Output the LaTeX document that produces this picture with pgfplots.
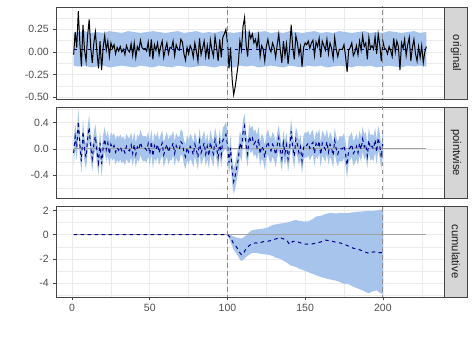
\documentclass[border=0pt]{standalone}
\usepackage{fontspec}
\setmainfont{Liberation Sans}
\usepackage{pgfplots}
\pgfplotsset{compat=1.18}
\usepackage{pgfplotstable}
\usepgfplotslibrary{fillbetween}

\definecolor{bandc}{RGB}{166,196,236}
\definecolor{predc}{HTML}{00008B}
\definecolor{gridc}{HTML}{EBEBEB}
\definecolor{gtwenty}{HTML}{444444}
\definecolor{ticktext}{HTML}{4D4D4D}
\definecolor{stripfill}{HTML}{D6D6D6}
\definecolor{striptext}{HTML}{1A1A1A}
\definecolor{vlinec}{HTML}{8C8C8C}
\definecolor{hlinec}{HTML}{A0A0A0}

\pgfplotstableread{
x y
1 -0.03
2 0.22
3 0.05
4 0.45
5 0.10
6 -0.16
7 0.30
8 0.02
9 -0.10
10 0.18
11 0.36
12 0.05
13 -0.12
14 0.10
15 0.22
16 0.00
17 -0.18
18 0.12
19 -0.20
20 0.05
21 0.18
22 0.02
23 0.12
24 -0.05
25 0.10
26 0.04
27 0.08
28 -0.02
29 0.05
30 0.01
31 0.06
32 0.00
33 0.03
34 -0.03
35 0.07
36 0.02
37 0.00
38 0.09
39 -0.04
40 0.10
41 -0.06
42 0.06
43 0.02
44 0.13
45 0.05
46 0.03
47 0.04
48 0.01
49 0.11
50 -0.05
51 0.14
52 -0.08
53 0.08
54 0.02
55 0.10
56 -0.03
57 0.06
58 0.12
59 -0.06
60 0.03
61 0.10
62 -0.02
63 0.05
64 0.04
65 0.12
66 -0.04
67 0.08
68 0.03
69 0.02
70 0.14
71 0.11
72 -0.02
73 -0.09
74 0.05
75 -0.02
76 0.07
77 0.03
78 -0.06
79 0.10
80 0.01
81 -0.10
82 0.15
83 -0.03
84 0.04
85 0.12
86 -0.05
87 0.07
88 -0.08
89 0.13
90 0.02
91 -0.05
92 0.17
93 0.05
94 -0.10
95 0.14
96 -0.06
97 0.16
98 0.20
99 0.25
100 0.10
101 -0.18
102 0.05
103 -0.30
104 -0.47
105 -0.38
106 -0.25
107 -0.12
108 0.12
109 0.02
110 0.28
111 0.38
112 0.08
113 -0.05
114 0.22
115 0.15
116 0.20
117 0.10
118 0.14
119 0.05
120 0.18
121 -0.05
122 0.07
123 0.03
124 -0.10
125 0.06
126 0.14
127 0.04
128 0.00
129 0.10
130 0.05
131 -0.06
132 0.08
133 0.20
134 0.02
135 -0.12
136 0.12
137 -0.04
138 0.09
139 -0.13
140 0.04
141 0.30
142 0.05
143 -0.08
144 0.18
145 0.10
146 -0.03
147 0.06
148 -0.16
149 0.05
150 0.10
151 0.08
152 0.12
153 0.04
154 0.10
155 0.13
156 -0.04
157 0.11
158 0.06
159 0.15
160 -0.06
161 0.12
162 0.07
163 0.02
164 0.14
165 -0.02
166 0.10
167 0.04
168 -0.07
169 0.16
170 0.03
171 -0.05
172 0.03
173 0.03
174 0.03
175 0.08
176 -0.05
177 -0.22
178 0.02
179 0.05
180 0.10
181 -0.04
182 0.00
183 0.07
184 -0.03
185 0.12
186 0.02
187 0.18
188 0.06
189 0.10
190 -0.08
191 0.16
192 0.04
193 0.07
194 0.03
195 0.17
196 -0.02
197 0.20
198 0.08
199 -0.10
200 0.12
201 0.04
202 0.03
203 -0.02
204 0.06
205 0.02
206 -0.05
207 0.15
208 0.00
209 0.12
210 0.06
211 -0.20
212 0.10
213 0.04
214 0.14
215 -0.04
216 0.08
217 0.16
218 -0.10
219 0.05
220 0.14
221 -0.02
222 -0.10
223 0.06
224 -0.06
225 0.07
226 -0.12
227 0.00
228 0.06
}\orig

\pgfplotstableread{
x lo hi
1 -0.15 0.21
4 -0.16 0.22
8 -0.15 0.23
12 -0.17 0.21
16 -0.16 0.22
20 -0.15 0.21
24 -0.17 0.23
28 -0.16 0.22
32 -0.15 0.21
36 -0.16 0.23
40 -0.17 0.22
44 -0.15 0.21
48 -0.16 0.22
52 -0.17 0.23
56 -0.15 0.22
60 -0.16 0.21
64 -0.17 0.22
68 -0.15 0.23
72 -0.16 0.21
76 -0.17 0.22
80 -0.16 0.23
84 -0.15 0.21
88 -0.16 0.22
92 -0.17 0.21
96 -0.15 0.23
100 -0.16 0.22
104 -0.17 0.21
108 -0.15 0.22
112 -0.16 0.23
116 -0.15 0.21
120 -0.17 0.22
124 -0.16 0.23
128 -0.15 0.21
132 -0.16 0.22
136 -0.17 0.21
140 -0.15 0.23
144 -0.16 0.22
148 -0.17 0.21
152 -0.15 0.22
156 -0.16 0.23
160 -0.15 0.21
164 -0.17 0.22
168 -0.16 0.21
172 -0.15 0.23
176 -0.16 0.22
180 -0.17 0.21
184 -0.15 0.22
188 -0.16 0.23
192 -0.15 0.21
196 -0.17 0.22
200 -0.16 0.21
204 -0.15 0.23
208 -0.16 0.22
212 -0.17 0.21
216 -0.15 0.22
220 -0.16 0.23
224 -0.15 0.21
228 -0.16 0.22
}\origband

\pgfplotstableread{
x pw lo hi
1 -0.06 -0.25 0.13
2 0.19 0.00 0.38
3 0.02 -0.17 0.21
4 0.42 0.23 0.61
5 0.07 -0.12 0.26
6 -0.19 -0.38 0.00
7 0.27 0.08 0.46
8 -0.01 -0.20 0.18
9 -0.13 -0.32 0.06
10 0.15 -0.04 0.34
11 0.33 0.14 0.52
12 0.02 -0.17 0.21
13 -0.15 -0.34 0.04
14 0.07 -0.12 0.26
15 0.19 0.00 0.38
16 -0.03 -0.22 0.16
17 -0.21 -0.40 -0.02
18 0.09 -0.10 0.28
19 -0.23 -0.42 -0.04
20 0.02 -0.17 0.21
21 0.15 -0.04 0.34
22 -0.01 -0.20 0.18
23 0.09 -0.10 0.28
24 -0.08 -0.27 0.11
25 0.07 -0.12 0.26
26 0.01 -0.18 0.20
27 0.05 -0.14 0.24
28 -0.05 -0.24 0.14
29 0.02 -0.17 0.21
30 -0.02 -0.21 0.17
31 0.03 -0.16 0.22
32 -0.03 -0.22 0.16
33 0.00 -0.19 0.19
34 -0.06 -0.25 0.13
35 0.04 -0.15 0.23
36 -0.01 -0.20 0.18
37 -0.03 -0.22 0.16
38 0.06 -0.13 0.25
39 -0.07 -0.26 0.12
40 0.07 -0.12 0.26
41 -0.09 -0.28 0.10
42 0.03 -0.16 0.22
43 -0.01 -0.20 0.18
44 0.10 -0.09 0.29
45 0.02 -0.17 0.21
46 0.00 -0.19 0.19
47 0.01 -0.18 0.20
48 -0.02 -0.21 0.17
49 0.08 -0.11 0.27
50 -0.08 -0.27 0.11
51 0.11 -0.08 0.30
52 -0.11 -0.30 0.08
53 0.05 -0.14 0.24
54 -0.01 -0.20 0.18
55 0.07 -0.12 0.26
56 -0.06 -0.25 0.13
57 0.03 -0.16 0.22
58 0.09 -0.10 0.28
59 -0.09 -0.28 0.10
60 0.00 -0.19 0.19
61 0.07 -0.12 0.26
62 -0.05 -0.24 0.14
63 0.02 -0.17 0.21
64 0.01 -0.18 0.20
65 0.09 -0.10 0.28
66 -0.07 -0.26 0.12
67 0.05 -0.14 0.24
68 0.00 -0.19 0.19
69 -0.01 -0.20 0.18
70 0.11 -0.08 0.30
71 0.08 -0.11 0.27
72 -0.05 -0.24 0.14
73 -0.12 -0.31 0.07
74 0.02 -0.17 0.21
75 -0.05 -0.24 0.14
76 0.04 -0.15 0.23
77 0.00 -0.19 0.19
78 -0.09 -0.28 0.10
79 0.07 -0.12 0.26
80 -0.02 -0.21 0.17
81 -0.13 -0.32 0.06
82 0.12 -0.07 0.31
83 -0.06 -0.25 0.13
84 0.01 -0.18 0.20
85 0.09 -0.10 0.28
86 -0.08 -0.27 0.11
87 0.04 -0.15 0.23
88 -0.11 -0.30 0.08
89 0.10 -0.09 0.29
90 -0.01 -0.20 0.18
91 -0.08 -0.27 0.11
92 0.14 -0.05 0.33
93 0.02 -0.17 0.21
94 -0.13 -0.32 0.06
95 0.11 -0.08 0.30
96 -0.09 -0.28 0.10
97 0.13 -0.06 0.32
98 0.17 -0.02 0.36
99 0.22 0.03 0.41
100 0.07 -0.12 0.26
101 -0.21 -0.40 -0.02
102 0.02 -0.17 0.21
103 -0.33 -0.52 -0.14
104 -0.50 -0.69 -0.31
105 -0.41 -0.60 -0.22
106 -0.28 -0.47 -0.09
107 -0.15 -0.34 0.04
108 0.09 -0.10 0.28
109 -0.01 -0.20 0.18
110 0.25 0.06 0.44
111 0.35 0.16 0.54
112 0.05 -0.14 0.24
113 -0.08 -0.27 0.11
114 0.19 0.00 0.38
115 0.12 -0.07 0.31
116 0.17 -0.02 0.36
117 0.07 -0.12 0.26
118 0.11 -0.08 0.30
119 0.02 -0.17 0.21
120 0.15 -0.04 0.34
121 -0.08 -0.27 0.11
122 0.04 -0.15 0.23
123 0.00 -0.19 0.19
124 -0.13 -0.32 0.06
125 0.03 -0.16 0.22
126 0.11 -0.08 0.30
127 0.01 -0.18 0.20
128 -0.03 -0.22 0.16
129 0.07 -0.12 0.26
130 0.02 -0.17 0.21
131 -0.09 -0.28 0.10
132 0.05 -0.14 0.24
133 0.17 -0.02 0.36
134 -0.01 -0.20 0.18
135 -0.15 -0.34 0.04
136 0.09 -0.10 0.28
137 -0.07 -0.26 0.12
138 0.06 -0.13 0.25
139 -0.16 -0.35 0.03
140 0.01 -0.18 0.20
141 0.27 0.08 0.46
142 0.02 -0.17 0.21
143 -0.11 -0.30 0.08
144 0.15 -0.04 0.34
145 0.07 -0.12 0.26
146 -0.06 -0.25 0.13
147 0.03 -0.16 0.22
148 -0.19 -0.38 0.00
149 0.02 -0.17 0.21
150 0.07 -0.12 0.26
151 0.05 -0.14 0.24
152 0.09 -0.10 0.28
153 0.01 -0.18 0.20
154 0.07 -0.12 0.26
155 0.10 -0.09 0.29
156 -0.07 -0.26 0.12
157 0.08 -0.11 0.27
158 0.03 -0.16 0.22
159 0.12 -0.07 0.31
160 -0.09 -0.28 0.10
161 0.09 -0.10 0.28
162 0.04 -0.15 0.23
163 -0.01 -0.20 0.18
164 0.11 -0.08 0.30
165 -0.05 -0.24 0.14
166 0.07 -0.12 0.26
167 0.01 -0.18 0.20
168 -0.10 -0.29 0.09
169 0.13 -0.06 0.32
170 0.00 -0.19 0.19
171 -0.08 -0.27 0.11
172 0.00 -0.19 0.19
173 0.00 -0.19 0.19
174 0.00 -0.19 0.19
175 0.05 -0.14 0.24
176 -0.08 -0.27 0.11
177 -0.25 -0.44 -0.06
178 -0.01 -0.20 0.18
179 0.02 -0.17 0.21
180 0.07 -0.12 0.26
181 -0.07 -0.26 0.12
182 -0.03 -0.22 0.16
183 0.04 -0.15 0.23
184 -0.06 -0.25 0.13
185 0.09 -0.10 0.28
186 -0.01 -0.20 0.18
187 0.15 -0.04 0.34
188 0.03 -0.16 0.22
189 0.07 -0.12 0.26
190 -0.11 -0.30 0.08
191 0.13 -0.06 0.32
192 0.01 -0.18 0.20
193 0.04 -0.15 0.23
194 0.00 -0.19 0.19
195 0.14 -0.05 0.33
196 -0.05 -0.24 0.14
197 0.17 -0.02 0.36
198 0.05 -0.14 0.24
199 -0.13 -0.32 0.06
200 0.09 -0.10 0.28
}\pointw

\pgfplotstableread{
x c
1 0
100 0
102 -0.25
104 -0.75
106 -1.05
108 -1.50
109 -1.65
110 -1.60
112 -1.15
114 -0.90
116 -0.72
118 -0.68
120 -0.70
123 -0.58
126 -0.55
129 -0.44
131 -0.35
134 -0.25
136 -0.35
138 -0.45
140 -0.80
142 -0.55
144 -0.55
146 -0.63
149 -0.78
152 -0.79
155 -0.75
157 -0.71
160 -0.60
163 -0.45
166 -0.50
170 -0.63
173 -0.70
175 -0.79
178 -0.95
181 -1.12
184 -1.20
187 -1.34
189 -1.45
191 -1.54
193 -1.45
196 -1.40
198 -1.50
200 -1.46
}\cumul

% cumulative band as a closed outline: upper edge forward, lower edge back
\pgfplotstableread{
x y
100 0
102 -0.02
104 -0.15
106 -0.25
108 -0.30
109 -0.30
110 -0.25
112 -0.05
114 0.20
116 0.38
118 0.42
120 0.45
123 0.50
126 0.60
129 0.80
131 0.85
134 0.92
136 0.95
138 1.00
140 1.05
142 1.15
144 1.22
146 1.15
149 1.10
152 1.10
155 1.30
157 1.50
160 1.55
163 1.70
166 1.80
170 1.75
173 1.80
175 1.77
178 1.80
181 1.85
184 1.90
187 1.92
189 1.95
191 1.96
193 1.95
196 2.00
198 2.05
200 2.10
200 -4.95
198 -4.80
196 -4.60
193 -4.70
191 -4.84
189 -4.75
187 -4.60
184 -4.45
181 -4.30
178 -4.10
175 -4.05
173 -3.95
170 -3.80
166 -3.70
163 -3.60
160 -3.50
157 -3.35
155 -3.25
152 -3.10
149 -2.95
146 -2.80
144 -2.66
142 -2.60
140 -2.50
138 -2.30
136 -2.15
134 -2.00
131 -1.90
129 -1.75
126 -1.65
123 -1.62
120 -1.55
118 -1.50
116 -1.50
114 -1.65
112 -1.85
110 -2.10
109 -2.17
108 -2.05
106 -1.60
104 -1.25
102 -0.60
100 0
}\cumband

\pgfplotsset{
  panel/.style={
    scale only axis, width=388bp, anchor=south west,
    xmin=-10.35, xmax=239.35,
    axis line style={color=gtwenty, line width=0.7bp},
    grid=both,
    major grid style={color=gridc, line width=0.7bp},
    minor grid style={color=gridc, line width=0.35bp},
    xtick={0,50,100,150,200},
    minor xtick={25,75,125,175,225},
    tick align=outside,
    major tick length=3.2bp, minor tick length=0pt,
    xtick pos=left, ytick pos=left,
    tick style={color=gtwenty, line width=0.6bp},
    ticklabel style={font=\fontsize{10.5bp}{12bp}\selectfont, text=ticktext},
    yticklabel style={xshift=-0.5bp},
  },
  noxlab/.style={xticklabels={}, xtick style={draw=none}},
  vl/.style={color=vlinec, line width=0.9bp, dash pattern=on 4.5bp off 3.5bp},
  predl/.style={color=predc, line width=1bp, dash pattern=on 3.5bp off 3.5bp},
}

\begin{document}
\begin{tikzpicture}
\path (0,0) rectangle (474bp,338bp);

% original
\begin{axis}[panel, noxlab, at={(56bp,239bp)}, height=92bp,
  ymin=-0.518, ymax=0.496,
  ytick={-0.5,-0.25,0,0.25}, yticklabels={-0.50,-0.25,0.00,0.25},
  minor ytick={-0.375,-0.125,0.125,0.375}]
  \addplot[draw=none, name path=olo] table[x=x, y=lo] {\origband};
  \addplot[draw=none, name path=ohi] table[x=x, y=hi] {\origband};
  \addplot[fill=bandc, draw=none] fill between[of=ohi and olo];
  \addplot[predl] coordinates {(1,0.03) (228,0.03)};
  \addplot[black, line width=1bp] table[x=x, y=y] {\orig};
  \addplot[vl] coordinates {(100,-1) (100,1)};
  \addplot[vl] coordinates {(200,-1) (200,1)};
\end{axis}

% pointwise
\begin{axis}[panel, noxlab, at={(56bp,140bp)}, height=91bp,
  ymin=-0.75, ymax=0.64,
  ytick={-0.4,0,0.4}, yticklabels={-0.4,0.0,0.4},
  minor ytick={-0.6,-0.2,0.2,0.6}]
  \addplot[draw=none, name path=plo] table[x=x, y=lo] {\pointw};
  \addplot[draw=none, name path=phi] table[x=x, y=hi] {\pointw};
  \addplot[fill=bandc, draw=none] fill between[of=phi and plo];
  \addplot[hlinec, line width=1bp] coordinates {(1,0) (228,0)};
  \addplot[predl] table[x=x, y=pw] {\pointw};
  \addplot[vl] coordinates {(100,-1) (100,1)};
  \addplot[vl] coordinates {(200,-1) (200,1)};
\end{axis}

% cumulative
\begin{axis}[panel, at={(56bp,41bp)}, height=91bp,
  ymin=-5.15, ymax=2.37,
  ytick={-4,-2,0,2}, yticklabels={-4,-2,0,2},
  xticklabels={0,50,100,150,200},
  minor ytick={-5,-3,-1,1}]
  \addplot[fill=bandc, draw=none] table[x=x, y=y] {\cumband};
  \addplot[hlinec, line width=1bp] coordinates {(1,0) (228,0)};
  \addplot[predl] table[x=x, y=c] {\cumul};
  \addplot[vl] coordinates {(100,-10) (100,10)};
  \addplot[vl] coordinates {(200,-10) (200,10)};
\end{axis}

% strips
\foreach \yb/\yt/\lab in {239/331/original, 140/231/pointwise, 41/132/cumulative}{
  \draw[fill=stripfill, draw=gtwenty, line width=0.7bp] (444.8bp,\yb bp) rectangle (467bp,\yt bp);
  \node[rotate=-90, text=striptext, font=\fontsize{11.2bp}{13bp}\selectfont, inner sep=0pt]
    at ({(444.8bp+467bp)/2}, {(\yb bp+\yt bp)/2}) {\lab};
}
\end{tikzpicture}
\end{document}
